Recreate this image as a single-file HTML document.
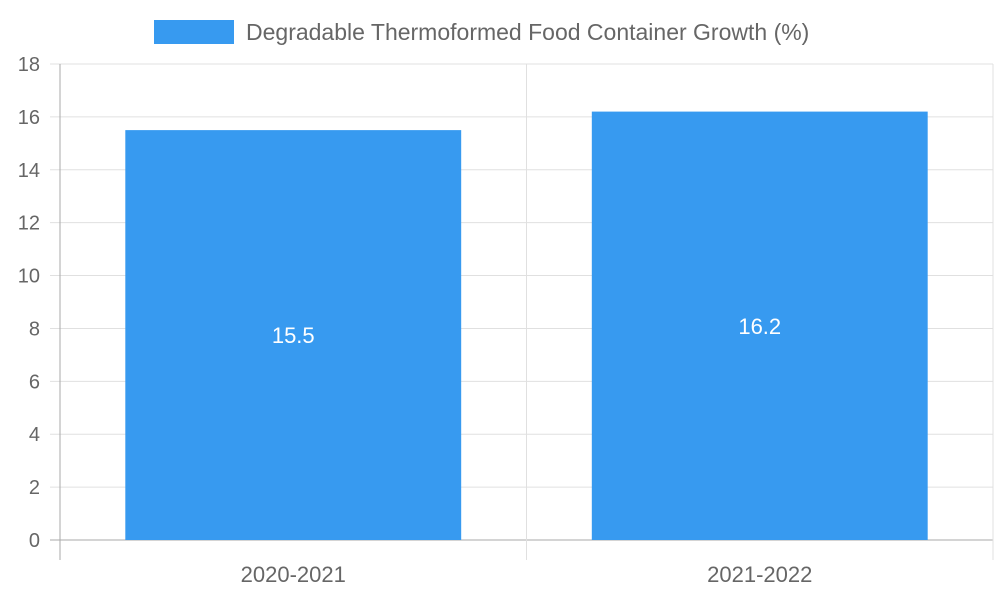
<!DOCTYPE html>
<html><head><meta charset="utf-8"><style>
html,body{margin:0;padding:0;background:#fff;width:1000px;height:600px;overflow:hidden}
svg text{font-family:"Liberation Sans",sans-serif}
</style></head><body>
<svg id="c" width="1000" height="600" xmlns="http://www.w3.org/2000/svg">
<rect x="154" y="20" width="80" height="24" fill="#379af0"/>
<text x="246" y="40" font-size="23" fill="#666">Degradable Thermoformed Food Container Growth (%)</text>
<g id="grid"></g><g id="bars"></g>
</svg>
<script>
const categories=["2020-2021","2021-2022"];
const values=[15.5,16.2];
const yTicks=[0,2,4,6,8,10,12,14,16,18];
const svg=document.getElementById('c'),grid=document.getElementById('grid'),bars=document.getElementById('bars');
const NS="http://www.w3.org/2000/svg";
const L=60,R=993,T=64,B=540,yMax=18;
const y=v=>B-(v/yMax)*(B-T);
const cw=(R-L)/categories.length;
const xc=i=>L+cw*(i+0.5);
function mk(t,a,p){const e=document.createElementNS(NS,t);for(const k in a)e.setAttribute(k,a[k]);p.appendChild(e);return e;}
yTicks.forEach(t=>{
 const l=mk('line',{x1:50,x2:R,y1:y(t),y2:y(t),stroke:t===0?'#aaa':'#e0e0e0','stroke-width':1},grid);
 
 
 const tx=mk('text',{x:40,y:y(t)+7,'text-anchor':'end','font-size':20,fill:'#666'},grid);
 tx.textContent=t;
 
 
});
for(let i=0;i<=categories.length;i++){
 const l=mk('line',{x1:L+cw*i,x2:L+cw*i,y1:T,y2:560,stroke:i===0?'#aaa':'#e0e0e0','stroke-width':1},grid);
 
 
}
categories.forEach((c,i)=>{
 const bw=cw*0.72;
 const r=mk('rect',{x:xc(i)-bw/2,y:y(values[i]),width:bw,height:B-y(values[i]),fill:'#379af0'},bars);
 
 
 const v=mk('text',{x:xc(i),y:(y(values[i])+B)/2+8,'text-anchor':'middle','font-size':22,fill:'#fff'},bars);
 v.textContent=values[i];
 
 
 const xl=mk('text',{x:xc(i),y:582,'text-anchor':'middle','font-size':22,fill:'#666'},bars);
 xl.textContent=c;
 
 
});
</script>
</body></html>
